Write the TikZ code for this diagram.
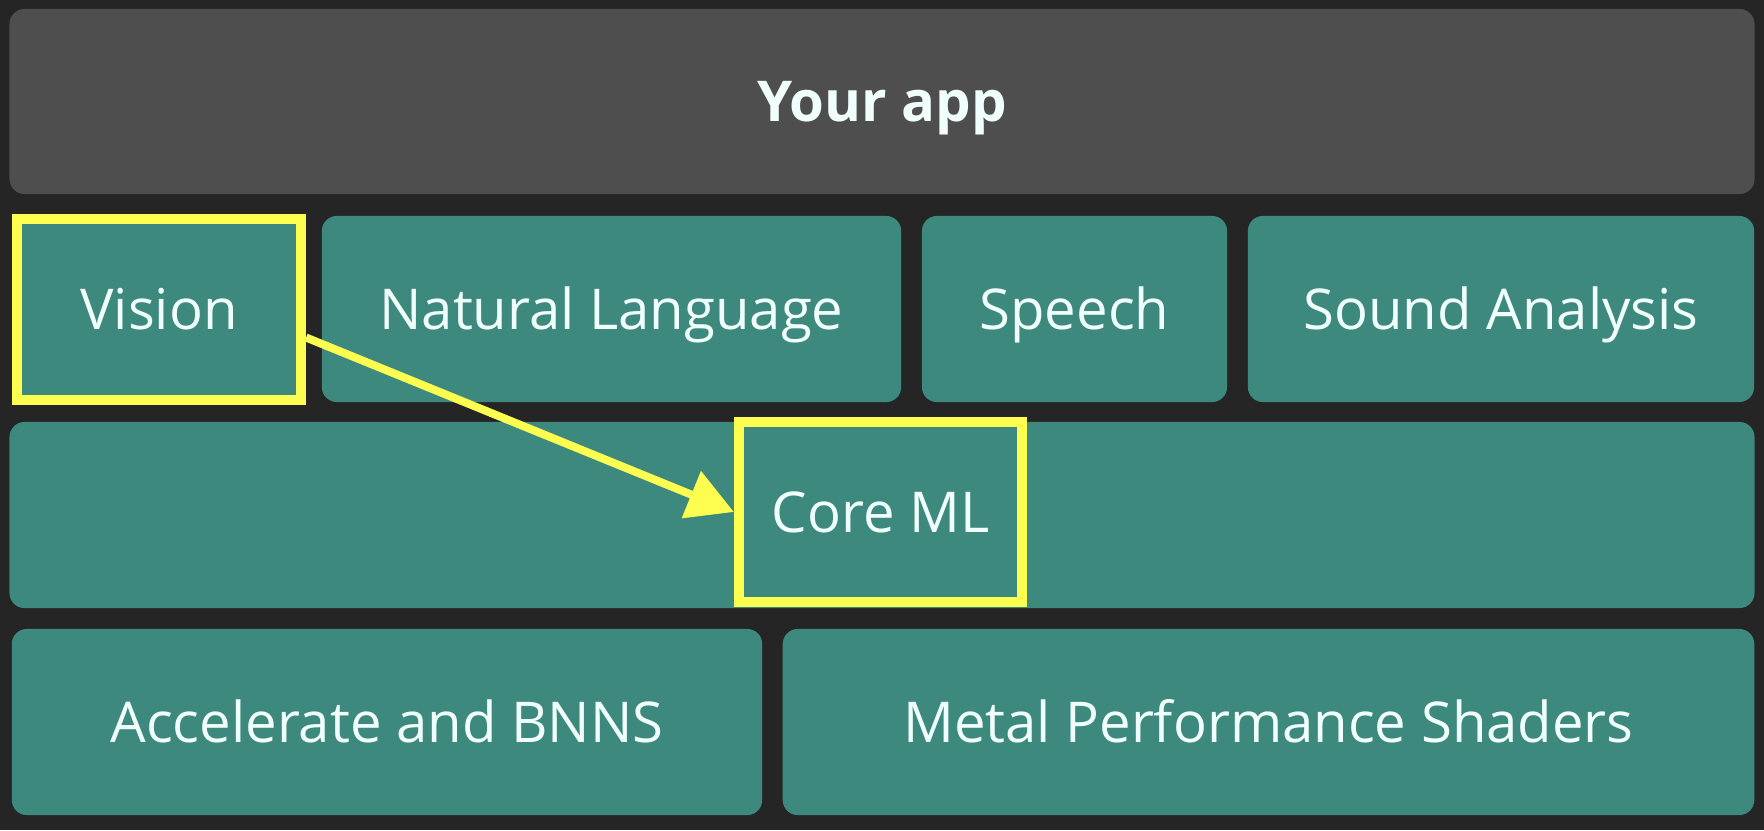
\documentclass[tikz,border=0pt]{standalone}
\usepackage{fontspec}
\setmainfont{Open Sans}
\usetikzlibrary{arrows.meta}
\usepackage{xcolor}

\definecolor{backdrop}{HTML}{262526}
\definecolor{appgray}{HTML}{4E4E4E}
\definecolor{teal}{HTML}{3D897D}
\definecolor{marker}{HTML}{FEFE50}
\definecolor{label}{HTML}{F0FFFC}

\begin{document}
\begin{tikzpicture}[x=0.01cm, y=-0.01cm,
  block/.style={fill=teal, rounded corners=0.15cm, text=label, inner sep=0pt,
    text height=0.40cm, text depth=0pt,
    font=\fontsize{16}{19}\selectfont, minimum height=1.86cm},
  frame/.style={draw=marker, fill=teal, line width=0.10cm, inner sep=0pt, text=label,
    text height=0.40cm, text depth=0pt,
    font=\fontsize{16}{19}\selectfont},
  pointer/.style={marker, line width=0.08cm, -{Triangle[length=0.46cm, width=0.49cm]}}]
\fill[backdrop] (0,0) rectangle (1764,830);
\useasboundingbox (0,0) rectangle (1764,830);
% top row
\node[block, fill=appgray, minimum width=17.44cm, minimum height=1.85cm,
  font=\fontsize{16}{19}\selectfont\bfseries] (app) at (882,101.5) {Your app};
% frameworks
\node[frame, minimum width=2.84cm, minimum height=1.81cm] (vision) at (159,309.5) {Vision};
\node[block, minimum width=5.79cm] (nl) at (611.5,309) {Natural Language};
\node[block, minimum width=3.05cm] (speech) at (1074.5,309) {Speech};
\node[block, minimum width=5.06cm] (sound) at (1501,309) {Sound Analysis};
% core ml row
\node[block, minimum width=17.44cm] (corerow) at (882,515) {};
\node[frame, minimum width=2.83cm, minimum height=1.80cm] (coreml) at (880.5,512) {Core ML};
% bottom row
\node[block, minimum width=7.50cm] (accel) at (387,722) {Accelerate and BNNS};
\node[block, minimum width=9.71cm] (metal) at (1268.5,722) {Metal Performance Shaders};
% highlight
\draw[pointer] ([yshift=-0.28cm]vision.east) -- (coreml.west);
\end{tikzpicture}
\end{document}
